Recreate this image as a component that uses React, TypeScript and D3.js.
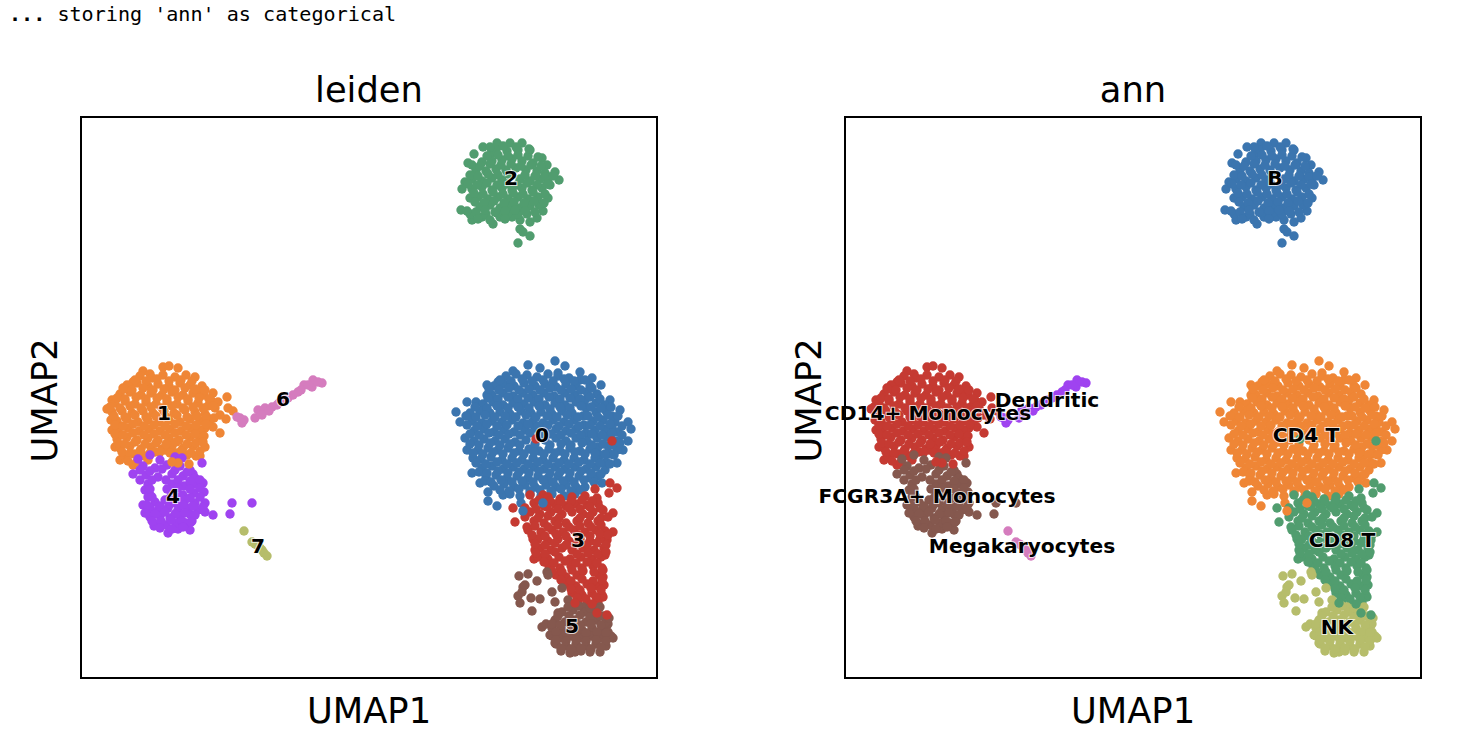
import React from "react";
import * as d3 from "d3";

type P = [number, number];

const cluster0: P[] = [
[456,412],[467,402],[476,402],[460,422],[465,438],[467,450],[473,458],[472,473],[480,483],[488,492],[488,501],[497,506],[503,495],[487,385],[487,395],[498,382],[513,371],[528,365],[540,368],[555,361],[565,366],[558,373],[580,372],[592,378],[601,385],[610,400],[620,410],[615,422],[628,422],[631,429],[628,441],[623,450],[617,463],[605,470],[602,483],[585,487],
[506,376],[516,374],[527,375],[537,377],[548,374],[558,376],[569,378],[580,380],[590,386],
[494,386],[504,384],[514,386],[524,383],[535,386],[545,384],[556,387],[566,384],[576,386],[587,392],[597,394],
[492,395],[503,393],[513,396],[523,393],[533,395],[544,393],[554,396],[565,393],[575,395],[585,400],[596,403],[605,405],
[483,404],[493,402],[503,405],[513,403],[524,404],[534,402],[545,405],[555,403],[565,405],[576,402],[586,408],[596,412],[606,411],[612,416],
[470,413],[480,411],[490,413],[500,412],[510,414],[521,411],[531,413],[541,412],[552,414],[562,411],[572,413],[583,416],[593,421],[603,420],[612,427],
[472,421],[482,423],[492,421],[502,422],[512,420],[523,423],[533,421],[543,423],[553,420],[564,422],[574,420],[584,425],[595,430],[605,429],[618,432],
[474,431],[484,429],[494,432],[504,430],[514,432],[525,430],[535,428],[545,431],[556,429],[566,431],[576,429],[586,433],[597,438],[607,437],[616,441],
[474,441],[484,439],[495,441],[505,439],[515,442],[526,440],[545,440],[556,438],[566,441],[576,438],[587,441],[598,447],[608,446],[617,450],
[478,450],[488,448],[498,450],[508,448],[519,451],[529,449],[539,451],[549,449],[560,451],[570,448],[580,451],[590,449],[600,455],[610,454],
[481,459],[491,457],[502,460],[512,458],[522,460],[533,458],[543,460],[553,458],[564,460],[574,458],[584,460],[595,458],[606,462],
[482,468],[492,466],[503,469],[513,467],[524,469],[534,467],[544,469],[555,467],[565,469],[575,467],[586,469],[596,467],
[486,477],[496,475],[507,478],[517,476],[528,478],[538,476],[548,478],[558,476],[569,478],[579,476],[590,478],[598,476],
[494,486],[504,484],[514,487],[525,485],[535,487],[546,485],[556,487],[566,485],[576,487],
[510,494],[520,496],[530,494],[541,496],[552,494],[564,496],[575,494],[521,503],[542,499],
[500,380],[511,381],[522,379],[532,381],[543,380],[553,381],[564,379],[574,381],[585,380],
[489,389],[499,390],[509,388],[519,390],[529,389],[540,390],[550,388],[561,390],[571,389],[581,390],[592,388],
[488,398],[498,399],[508,397],[518,399],[528,398],[539,399],[549,397],[560,399],[570,398],[580,399],[590,397],[600,399],
[475,407],[487,408],[497,406],[508,408],[518,407],[529,408],[539,406],[550,409],[560,407],[570,408],[581,406],[591,407],[601,408],[611,407],
[466,416],[476,417],[485,415],[495,417],[505,416],[516,417],[526,415],[536,417],[547,416],[557,417],[567,415],[578,417],[588,416],[598,417],[608,415],[618,416],
[467,425],[477,426],[487,424],[497,426],[507,425],[518,426],[528,424],[538,426],[548,425],[559,426],[569,424],[579,426],[590,425],[600,426],[610,424],[622,426],
[470,434],[479,435],[489,433],[499,435],[509,434],[520,435],[530,433],[540,435],[551,434],[561,435],[571,433],[581,435],[592,434],[602,435],[612,433],[622,435],
[470,444],[479,445],[490,443],[500,445],[510,444],[520,445],[535,444],[550,445],[561,444],[571,445],[582,443],[592,445],[603,444],[612,445],[620,443],
[473,453],[483,454],[493,452],[503,454],[514,453],[524,454],[534,452],[544,454],[555,453],[565,454],[575,452],[585,454],[595,453],[605,454],[614,455],
[476,463],[486,464],[497,462],[507,464],[517,463],[528,464],[538,462],[548,464],[559,463],[569,464],[579,462],[590,464],[600,463],[610,464],
[479,472],[487,473],[498,471],[508,473],[519,472],[529,473],[539,471],[550,473],[560,472],[570,473],[581,471],[591,473],[601,474],
[485,481],[491,482],[501,480],[512,482],[522,481],[533,482],[543,480],[553,482],[563,481],[574,482],[584,480],[594,482],
[500,490],[509,491],[519,489],[530,491],[540,490],[551,491],[561,489],[571,491],[581,490],
];

const cluster1: P[] = [
[107,409],[111,420],[112,430],[115,447],[120,460],[133,465],[112,400],[123,388],[133,382],[143,371],[150,374],[163,367],[169,366],[178,368],[195,377],[202,386],[213,393],[211,400],[227,397],[218,402],[215,408],[228,408],[233,411],[226,419],[220,415],[220,433],[213,427],[205,428],[205,447],[200,456],
[140,376],[152,378],[163,375],[175,377],[186,375],
[127,385],[137,383],[148,386],[158,384],[169,386],[180,383],[190,385],[200,392],
[120,394],[130,392],[141,395],[151,393],[162,395],[172,392],[183,395],[193,393],[204,395],
[115,403],[125,401],[135,404],[146,402],[156,404],[167,402],[177,404],[188,401],[198,403],[208,406],
[112,412],[122,411],[132,413],[143,411],[153,413],[164,411],[174,413],[185,410],[195,412],[205,414],
[117,421],[127,419],[138,422],[148,420],[159,422],[169,420],[180,422],[190,419],[200,421],[210,420],
[118,430],[128,428],[139,431],[149,429],[160,431],[170,429],[181,431],[191,428],[199,430],
[117,439],[127,437],[137,440],[148,438],[158,440],[169,438],[179,440],[190,437],[200,438],
[120,448],[130,446],[141,449],[151,447],[162,449],[172,446],[183,448],[193,446],
[124,456],[134,454],[145,456],[155,452],[165,450],[176,453],[187,455],[196,456],
[135,380],[146,381],[157,379],[169,381],[181,380],[192,381],
[124,389],[132,390],[143,388],[153,390],[164,389],[175,390],[185,388],[195,389],[205,390],
[117,398],[125,399],[136,397],[146,399],[157,398],[167,399],[178,397],[188,399],[199,398],[209,399],
[110,407],[120,408],[130,406],[141,408],[151,407],[162,408],[172,406],[183,408],[193,407],[203,408],[213,406],
[114,416],[125,417],[135,415],[146,417],[156,416],[166,417],[177,415],[187,417],[197,416],[207,417],[214,418],
[115,425],[123,426],[133,424],[144,426],[154,425],[165,426],[175,424],[186,426],[196,425],[206,424],
[115,434],[123,435],[133,433],[144,435],[154,434],[165,435],[175,433],[186,435],[195,434],[204,436],
[118,443],[125,444],[135,442],[145,444],[156,443],[166,444],[176,442],[187,444],[196,443],[203,442],
[122,452],[130,453],[140,451],[150,453],[160,452],[170,453],[181,451],[191,453],[200,451],
[128,461],[137,462],[148,460],
];

const cluster2: P[] = [
[483,147],[497,143],[510,143],[522,143],[530,150],[542,158],[547,165],[555,172],[559,180],[550,185],[548,198],[543,211],[537,218],[530,222],[520,220],[512,217],[500,217],[493,224],[482,217],[472,220],[461,210],[470,198],[462,189],[465,182],[468,163],[474,154],[490,155],[520,229],[530,236],[518,243],[523,232],
[496,150],[507,151],[518,150],[528,156],[482,162],[492,161],[502,160],[512,159],[522,161],[533,163],
[476,170],[486,171],[496,169],[506,170],[516,168],[526,170],[537,171],[545,173],
[472,179],[482,181],[492,178],[502,180],[520,179],[530,181],[540,179],[549,177],
[472,189],[482,187],[492,190],[502,188],[512,190],[522,188],[532,190],[542,188],
[478,197],[488,199],[498,197],[508,199],[518,197],[528,199],[538,197],
[480,207],[490,205],[500,208],[510,206],[520,208],[530,206],[539,205],
[470,214],[486,214],[497,213],[508,213],[518,214],[527,214],
[490,147],[503,146],[516,147],
[487,156],[498,155],[508,156],[518,155],[529,149],[538,157],
[472,165],[480,166],[490,164],[501,165],[511,164],[521,166],[531,165],[541,166],
[470,175],[478,176],[488,174],[498,175],[508,174],[525,175],[535,176],[545,177],[553,176],
[468,184],[477,185],[487,183],[497,185],[507,184],[517,185],[527,183],[537,185],[547,184],
[474,193],[483,194],[493,192],[503,194],[513,193],[523,194],[533,192],[545,194],
[475,202],[484,203],[494,201],[504,203],[514,202],[524,203],[534,201],[544,203],
[467,211],[476,212],[485,210],[495,212],[505,211],[515,210],[525,211],[535,212],
[478,219],[490,220],[505,219],
];

const cluster3: P[] = [
[513,508],[515,522],[527,527],[533,539],[535,550],[534,559],[543,495],[595,489],[610,483],[617,488],[609,493],[613,513],[613,532],[607,540],[605,555],[603,577],[603,597],[580,593],[563,577],[550,567],
[530,495],[548,497],[560,499],[572,497],[585,496],[597,498],
[534,503],[544,506],[555,504],[566,506],[576,504],[587,505],[598,503],
[530,512],[540,514],[551,512],[562,514],[572,512],[583,514],[593,512],[603,510],
[534,521],[544,523],[555,521],[566,523],[577,521],[588,523],[598,521],
[528,530],[541,532],[552,530],[563,532],[574,530],[585,532],[596,530],[605,531],
[538,539],[548,541],[558,539],[569,541],[580,539],[590,541],[600,539],
[540,548],[551,550],[562,548],[572,550],[583,548],[594,550],[604,548],
[538,557],[548,559],[559,557],[570,559],[581,557],[592,559],[601,557],
[549,566],[560,568],[571,566],[582,568],[593,566],[602,568],
[556,575],[566,577],[577,575],[599,575],
[566,584],[576,586],[587,584],[598,586],[604,585],
[572,593],[582,595],[592,593],[602,595],
[578,602],[588,604],[598,602],[590,610],
[539,500],[550,501],[561,502],[571,501],[582,500],[592,501],
[525,508],[536,509],[547,507],[558,509],[569,508],[580,509],[590,507],[600,508],
[525,517],[538,518],[548,516],[559,518],[580,518],[590,516],[601,518],[608,517],
[535,526],[548,527],[558,525],[569,527],[580,526],[591,527],[601,525],
[532,535],[545,536],[556,534],[566,536],[578,535],[590,536],[600,534],[608,535],
[535,544],[545,545],[555,543],[566,545],[576,544],[587,545],[597,543],[606,545],
[536,553],[545,554],[555,552],[577,554],[588,553],[598,554],[606,552],
[544,562],[554,563],[565,561],[576,563],[587,562],[597,563],
[552,571],[562,572],[572,570],[583,571],[594,572],[603,570],
[561,580],[571,581],[582,579],[593,581],[602,580],
[571,589],[580,590],[591,588],[601,590],
[577,598],[586,599],[596,597],
];

const cluster4: P[] = [
[138,459],[150,455],[160,460],[175,457],[182,458],[202,463],[133,474],[140,480],[145,490],[143,505],[150,516],[154,526],[168,533],[178,529],[190,530],[192,521],[205,503],[203,483],[193,474],[213,515],[205,512],[232,503],[252,503],[230,514],
[143,466],[155,468],[167,465],[180,466],[190,470],
[146,475],[158,477],[172,474],[183,476],[195,478],
[148,484],[172,484],[184,486],[196,484],
[150,495],[172,493],[183,495],[194,493],[204,492],
[155,502],[165,500],[175,503],[185,500],[195,503],
[150,508],[158,510],[168,508],[178,510],[188,508],[198,510],
[150,517],[160,516],[170,518],[180,516],[190,514],
[156,524],[166,525],[176,523],[186,523],[148,497],
[140,470],[150,471],[162,469],[175,470],[187,472],
[152,480],[166,480],[178,480],[190,481],[200,480],
[150,489],[167,489],[178,488],[190,489],[200,488],
[152,497],[170,498],[180,497],[190,498],[200,497],
[147,505],[160,506],[170,504],[183,505],[193,506],[203,507],
[145,513],[155,514],[165,512],[175,514],[185,513],[195,515],
[152,521],[161,521],[171,520],[182,521],[191,522],
[160,528],[172,529],[183,527],
];

const cluster5: P[] = [
[519,576],[528,574],[537,581],[547,572],[523,587],[518,596],[520,603],[531,598],[540,599],[532,611],[542,627],[552,592],[562,588],[555,602],[568,600],[583,607],[600,607],[608,624],[613,638],[600,652],[570,653],[555,643],[550,635],[558,613],[522,592],[525,585],[548,575],[546,624],
[562,612],[573,610],[585,612],[594,614],[603,616],
[555,620],[565,622],[575,620],[586,622],[596,620],[606,622],
[552,628],[562,630],[572,628],[582,630],[592,628],[602,630],[608,632],
[552,636],[561,638],[571,636],[581,638],[591,636],[601,638],[611,636],
[556,644],[566,646],[576,644],[586,646],[596,644],[606,646],
[561,651],[575,652],[581,651],[590,652],
[568,607],[578,606],[590,608],[597,609],
[558,616],[569,616],[580,615],[590,617],[600,616],[609,618],
[552,624],[560,625],[570,624],[580,625],[591,624],[601,625],
[556,632],[566,633],[576,632],[586,633],[597,632],[606,633],
[556,640],[566,641],[576,640],[586,641],[596,640],[606,641],
[561,648],[571,649],[581,648],[591,649],[601,647],
];

const cluster6: P[] = [
[240,418],[244,420],[242,423],[237,417],[255,418],[258,410],[265,408],[272,407],[277,405],[283,400],[293,395],[298,392],[304,385],[312,387],[313,380],[322,383],[262,415],[269,411],[288,398],[279,403],[301,390],[308,385],[318,382],
];

const cluster7: P[] = [
[244,531],[252,542],[255,544],[257,545],[260,548],[262,550],[264,553],[267,556],
];

const overlayOrange: P[] = [[178,463],[189,464],[172,462]];
const overlayRed: P[] = [[536,439],[612,441],[597,613],[607,615],[575,603],[592,604]];
const overlayBlue: P[] = [[523,511],[543,503]];

const leidenColors = ["#3b75af","#ef8636","#519d6f","#c53a32","#9f43f0","#85584e","#d57cbe","#b6bd6b"];
const annColors = ["#ef8636","#c53a32","#3b75af","#519d6f","#85584e","#b6bd6b","#9f43f0","#d57cbe"];

const leidenLabels = ["0","1","2","3","4","5","6","7"];
const annLabels = ["CD4 T","CD14+ Monocytes","B","CD8 T","FCGR3A+ Monocytes","NK","Dendritic","Megakaryocytes"];
const leidenLabelX = [542,164,511,578,173,572,283,258];
const leidenLabelY = [435,413,178,540,496,626,399,546];
const annLabelX = [542,164,511,578,173,573,283,258];
const annLabelY = [435,413,178,540,496,627,400,546];

const drawOrder: [P[], number][] = [
  [cluster0,0],[cluster1,1],[cluster2,2],[cluster3,3],[cluster4,4],[cluster5,5],[cluster6,6],[cluster7,7],
  [overlayOrange,1],[overlayRed,3],[overlayBlue,0],
];

const W = 1458, H = 740;
const panelW = 576, panelH = 561, panelTop = 117;
const FONT = "'DejaVu Sans', sans-serif";

const x = d3.scaleLinear().domain([81,657]).range([0,panelW]);
const y = d3.scaleLinear().domain([117,678]).range([0,panelH]);

function Panel({left,title,colors,labels,lx,ly}:{left:number;title:string;colors:string[];labels:string[];lx:number[];ly:number[]}) {
  return (
    <g transform={`translate(${left},${panelTop})`}>
      {drawOrder.map(([pts,c],i)=>(
        <g key={i} fill={colors[c]}>
          {pts.map((p,j)=><circle key={j} cx={x(p[0])} cy={y(p[1])} r={4.7}/>)}
        </g>
      ))}
      {labels.map((t,i)=>(
        <text key={t} x={x(lx[i])} y={y(ly[i])} dy="0.36em" textAnchor="middle"
          fontFamily={FONT} fontWeight="bold" fontSize={20.2} fill="#000"
          stroke="#fff" strokeWidth={2} strokeOpacity={0.75} style={{paintOrder:"stroke"}}>{t}</text>
      ))}
      <rect x={0} y={0} width={panelW} height={panelH} fill="none" stroke="#000" strokeWidth={2}/>
      <text x={panelW/2} y={-15} textAnchor="middle" fontFamily={FONT} fontSize={35.3} fill="#000">{title}</text>
      <text x={panelW/2} y={panelH+45} textAnchor="middle" fontFamily={FONT} fontSize={35.3} fill="#000">UMAP1</text>
      <text transform={`translate(-24,${panelH/2+3}) rotate(-90)`} textAnchor="middle" fontFamily={FONT} fontSize={35.3} fill="#000">UMAP2</text>
    </g>
  );
}

export default function App() {
  return (
    <svg width={W} height={H} style={{position:"absolute",left:0,top:0,background:"#fff"}}>
      <text x={9} y={21} fontFamily="'DejaVu Sans Mono', monospace" fontSize={20.1} fill="#000">
        <tspan fontWeight="bold">...</tspan> storing 'ann' as categorical
      </text>
      <Panel left={81} title="leiden" colors={leidenColors} labels={leidenLabels} lx={leidenLabelX} ly={leidenLabelY}/>
      <Panel left={845} title="ann" colors={annColors} labels={annLabels} lx={annLabelX} ly={annLabelY}/>
    </svg>
  );
}
